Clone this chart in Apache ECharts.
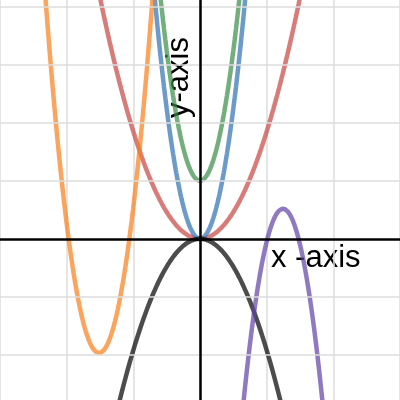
<!DOCTYPE html>
<html>
<head>
<meta charset="utf-8">
<script src="https://cdn.jsdelivr.net/npm/echarts@6/dist/echarts.min.js"></script>
<style>html,body{margin:0;padding:0;background:#fff}#c{width:400px;height:400px}</style>
</head>
<body>
<div id="c"></div>
<script>
// parabolas y = a*(x-h)^2 + k (grid units)
var names = ['red', 'blue', 'green', 'orange', 'black', 'purple'];
var colors = ['#c74440', '#2d70b3', '#388c46', '#fa7e19', '#000000', '#6042a6'];
var aVals = [1.85, 9.0, 9.0, 9.5, -1.92, -9.5];
var hVals = [0, 0, 0, -1.515, 0, 1.245];
var kVals = [0, 0, 1, -1.97, 0, 0.52];
var yGrid = [-2, -1, 1, 2, 3, 4];

var X_MIN = -3, X_MAX = 3, Y_MIN = -2.78, Y_MAX = 4.12;

function curve(i) {
    var pts = [];
    for (var x = X_MIN; x <= X_MAX + 1e-9; x += 0.005) {
        pts.push([x, aVals[i] * (x - hVals[i]) * (x - hVals[i]) + kVals[i]]);
    }
    return pts;
}

var series = [];
// grid lines and axes
series.push({
    type: 'line', data: [], silent: true,
    markLine: {
        symbol: 'none', silent: true, label: {show: false},
        lineStyle: {color: '#dddddd', width: 1.5, type: 'solid'},
        data: yGrid.map(function (v) { return {yAxis: v}; })
            .concat([{yAxis: 0, lineStyle: {color: '#000', width: 2.5}},
                     {xAxis: 0, lineStyle: {color: '#000', width: 2.5}}])
    }
});
names.forEach(function (n, i) {
    series.push({
        name: n, type: 'line', data: curve(i), showSymbol: false, silent: true,
        clip: true, z: 3,
        lineStyle: {color: colors[i], width: 4.5, opacity: 0.7}
    });
});

var myChart = echarts.init(document.getElementById('c'));
var option = {
    animation: false,
    grid: {left: 0, right: 0, top: 0, bottom: 0},
    xAxis: {
        type: 'value', min: X_MIN, max: X_MAX, interval: 1,
        axisLine: {show: false}, axisTick: {show: false}, axisLabel: {show: false},
        splitLine: {show: true, lineStyle: {color: '#dddddd', width: 1.5}}
    },
    yAxis: {
        type: 'value', min: Y_MIN, max: Y_MAX,
        axisLine: {show: false}, axisTick: {show: false}, axisLabel: {show: false},
        splitLine: {show: false}
    },
    graphic: [
        {type: 'text', left: 271, top: 243,
         style: {text: 'x -axis', font: '31px "Liberation Sans", Arial', fill: '#000'}},
        {type: 'text', x: 164, y: 118, rotation: Math.PI / 2,
         style: {text: 'y-axis', font: '31px "Liberation Sans", Arial', fill: '#000'}}
    ],
    series: series
};
myChart.setOption(option);
</script>
</body>
</html>
